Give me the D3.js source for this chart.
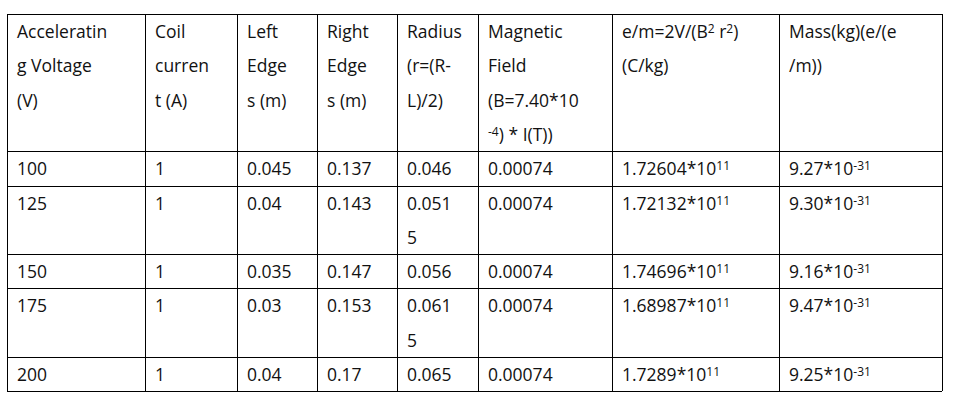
<!DOCTYPE html>
<html><head><meta charset="utf-8">
<script src="https://cdn.jsdelivr.net/npm/d3@7"></script>
<style>body{margin:0;background:#fff}text{font-family:"Open Sans",sans-serif;font-size:17.5px;fill:#111}</style>
</head><body><svg id="t"></svg>
<script>
// column widths (px) and header text, lines as in the picture
const colWidths = [138, 92, 80, 80, 81, 134, 167, 163];
const headers = [
  ['Acceleratin', 'g Voltage', '(V)'],
  ['Coil', 'curren', 't (A)'],
  ['Left', 'Edge', 's (m)'],
  ['Right', 'Edge', 's (m)'],
  ['Radius', '(r=(R-', 'L)/2)'],
  ['Magnetic', 'Field', '(B=7.40*10', '^{-4}) * I(T))'],
  ['e/m=2V/(B^{2} r^{2})', '(C/kg)'],
  ['Mass(kg)(e/(e', '/m))']
];
const voltage = ['100', '125', '150', '175', '200'];
const current = ['1', '1', '1', '1', '1'];
const leftEdge = ['0.045', '0.04', '0.035', '0.03', '0.04'];
const rightEdge = ['0.137', '0.143', '0.147', '0.153', '0.17'];
const radius = [['0.046'], ['0.051', '5'], ['0.056'], ['0.061', '5'], ['0.065']];
const field = ['0.00074', '0.00074', '0.00074', '0.00074', '0.00074'];
const eOverM = ['1.72604*10^{11}', '1.72132*10^{11}', '1.74696*10^{11}', '1.68987*10^{11}', '1.7289*10^{11}'];
const mass = ['9.27*10^{-31}', '9.30*10^{-31}', '9.16*10^{-31}', '9.47*10^{-31}', '9.25*10^{-31}'];

const LINE = 34.3, PAD = 10, X0 = 7, Y0 = 14;

const rows = [headers].concat(voltage.map((v, i) => [
  [v], [current[i]], [leftEdge[i]], [rightEdge[i]], radius[i], [field[i]], [eOverM[i]], [mass[i]]
]));
const rowLines = rows.map(r => d3.max(r, c => c.length));

const colX = [X0];
colWidths.forEach(w => colX.push(colX[colX.length - 1] + w));
const rowY = [Y0];
rowLines.forEach(n => rowY.push(rowY[rowY.length - 1] + n * LINE));

const svg = d3.select('#t').attr('width', 975).attr('height', 406);

function writeLine(sel, str) {
  str.split(/(\^\{[^}]*\})/).filter(s => s).forEach(s => {
    const sup = s.startsWith('^{');
    sel.append('tspan')
      .attr('baseline-shift', sup ? '40%' : null)
      .style('font-size', sup ? '12px' : null)
      .text(sup ? s.slice(2, -1) : s);
  });
}

rows.forEach((r, ri) => {
  r.forEach((cell, ci) => {
    cell.forEach((ln, li) => {
      const t = svg.append('text')
        .attr('x', colX[ci] + PAD)
        .attr('y', rowY[ri] + li * LINE + 24);
      writeLine(t, ln);
    });
  });
});

const grid = svg.append('g').attr('stroke', '#000').attr('stroke-width', 1).attr('shape-rendering', 'crispEdges');
grid.selectAll('.h').data(rowY).join('line')
  .attr('x1', X0).attr('x2', colX[colX.length - 1])
  .attr('y1', d => Math.round(d) + 0.5).attr('y2', d => Math.round(d) + 0.5);
grid.selectAll('.v').data(colX).join('line')
  .attr('y1', Y0).attr('y2', rowY[rowY.length - 1])
  .attr('x1', d => d + 0.5).attr('x2', d => d + 0.5);
</script></body></html>
